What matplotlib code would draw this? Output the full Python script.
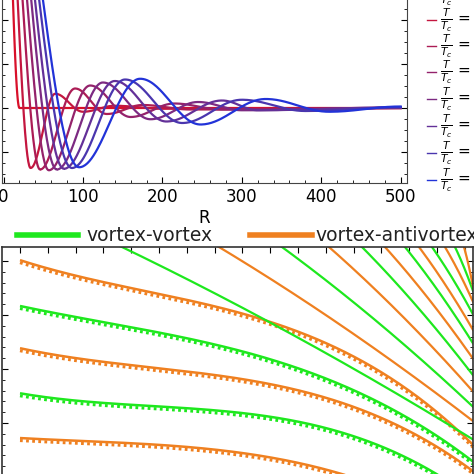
import numpy as np
import matplotlib
matplotlib.use("Agg")
import matplotlib.pyplot as plt
import matplotlib.transforms as mtrans

# ---- top panel data: extrema (R, value) for each curve, red -> blue
top_R = [
    [0, 20, 500],
    [0, 34, 65, 100, 140, 200, 500],
    [0, 46, 90, 130, 175, 235, 500],
    [0, 57, 109, 160, 215, 275, 500],
    [0, 67, 125, 185, 245, 300, 500],
    [0, 76, 140, 205, 275, 320, 500],
    [0, 86, 153, 225, 300, 380, 500],
    [0, 95, 172, 248, 330, 410, 500],
]
top_V = [
    [4.0, 0.0, 0.0],
    [4.0, -0.80, 0.19, -0.05, 0.03, -0.01, 0.0],
    [4.0, -0.82, 0.26, -0.08, 0.04, -0.02, 0.0],
    [4.0, -0.83, 0.30, -0.12, 0.06, -0.02, 0.0],
    [4.0, -0.82, 0.34, -0.15, 0.08, -0.03, 0.0],
    [4.0, -0.81, 0.36, -0.18, 0.10, -0.03, 0.01],
    [4.0, -0.80, 0.38, -0.20, 0.11, -0.04, 0.01],
    [4.0, -0.79, 0.39, -0.22, 0.12, -0.05, 0.02],
]
top_colors = ["#d8102a", "#c4163f", "#ac1c55", "#94226b", "#7c2a82", "#633098", "#4a36ae", "#2233d8"]

# ---- bottom panel data (pixel-like coordinates)
dotted_x = [[18, 100, 200, 270, 333, 400, 440, 467],
            [18, 100, 200, 270, 333, 400, 440, 467],
            [18, 100, 200, 270, 333, 400, 440, 467],
            [18, 100, 200, 270, 333, 400, 430],
            [18, 100, 200, 270, 340]]
dotted_y = [[261, 280, 303, 324, 350, 383, 412, 445],
            [306, 322, 341, 360, 383, 415, 437, 460],
            [349, 360, 373, 386, 403, 425, 446, 472],
            [394, 401, 410, 419, 430, 452, 474],
            [438, 442, 448, 458, 474]]
dotted_c = ["o", "g", "o", "g", "o"]
upper_top_x = [120, 217, 280, 327, 360, 383, 403, 417, 430, 443, 453, 462]
upper_end_y = [437, 418, 403, 387, 370, 353, 337, 323, 307, 293, 280, 267]
upper_c = ["g", "o", "g", "o", "g", "o", "g", "o", "g", "o", "g", "o"]

GREEN = "#1ee81e"
ORANGE = "#ef8020"
cmap = {"g": GREEN, "o": ORANGE}

W = 474
fig = plt.figure(figsize=(4.74, 4.74), dpi=100)

def cos_interp(xs, ys, n=60):
    X, Y = [], []
    for i in range(len(xs) - 1):
        t = np.linspace(0, 1, n)
        s = (1 - np.cos(np.pi * t)) / 2
        X.append(xs[i] + (xs[i + 1] - xs[i]) * t)
        Y.append(ys[i] + (ys[i + 1] - ys[i]) * s)
    return np.concatenate(X), np.concatenate(Y)

axh = 300
ax1 = fig.add_axes([2 / W, (W - 183) / W, 405 / W, axh / W])
for R, V, c in zip(top_R, top_V, top_colors):
    x, y = cos_interp(R, V)
    ax1.plot(x, y, color=c, lw=1.6)
ax1.set_xlim(-2, 508)
ppu = 75.0
ax1.set_ylim(-75 / ppu, (axh - 75) / ppu)
ax1.set_xticks(range(0, 501, 100))
ax1.set_xticks(range(0, 501, 20), minor=True)
ax1.set_yticks([-44 / ppu, 0, 44 / ppu, 88 / ppu])
ax1.set_yticks(np.arange(-66, 200, 11) / ppu, minor=True)
ax1.set_yticklabels([])
ax1.tick_params(which="both", direction="in", top=True, right=True, labelsize=12)
ax1.tick_params(which="major", length=4)
ax1.tick_params(which="minor", length=2)
ax1.set_xlabel("R", fontsize=12, labelpad=2)
for s in ax1.spines.values():
    s.set_color("#444444")

leg_y = [-6, 20, 46, 72, 99, 126, 153, 180]
for yy, c in zip(leg_y, top_colors):
    fy = 1 - yy / W
    fig.add_artist(plt.Line2D([427 / W, 436 / W], [fy, fy], color=c, lw=1.0))
    fig.text(440 / W, fy, r"$\frac{T}{T_c}$ =", fontsize=11, va="center", ha="left")

fy = 1 - 235 / W
fig.add_artist(plt.Line2D([17 / W, 78 / W], [fy, fy], color=GREEN, lw=4))
fig.text(86 / W, fy, "vortex-vortex", fontsize=13.5, va="center", color="#222222")
fig.add_artist(plt.Line2D([250 / W, 312 / W], [fy, fy], color=ORANGE, lw=4))
fig.text(315 / W, fy, "vortex-antivortex", fontsize=13.5, va="center", color="#222222")

ax2 = fig.add_axes([2 / W, -40 / W, 471 / W, (474 - 247 + 40) / W])
ax2.set_xlim(0, 471)
ax2.set_ylim(514, 247)
off = mtrans.offset_copy(ax2.transData, fig=fig, x=0, y=-2.5, units="dots")
for xs, ys, c in zip(dotted_x, dotted_y, dotted_c):
    p = np.polyfit(xs, ys, 3)
    xx = np.linspace(xs[0], xs[-1] + 6, 200)
    yy = np.polyval(p, xx)
    ax2.plot(xx, yy, color=cmap[c], lw=1.8, solid_capstyle="butt")
    ax2.plot(xx, yy, color=cmap[c], lw=2.2, dashes=(0.9, 1.1), transform=off)
for tx, ey, c in zip(upper_top_x, upper_end_y, upper_c):
    span = 467 - tx
    mx = tx + span * 0.5
    my = 247 + (ey - 247) * 0.47
    p = np.polyfit([tx, mx, 467], [247, my, ey], 2)
    xx = np.linspace(tx - 5, 471, 200)
    ax2.plot(xx, np.polyval(p, xx), color=cmap[c], lw=1.6)
ax2.set_xticks(np.arange(18, 471, 27.8))
ax2.set_yticks(np.arange(261, 514, 54))
ax2.set_yticks(np.arange(261, 514, 10.8), minor=True)
ax2.set_xticklabels([])
ax2.set_yticklabels([])
ax2.tick_params(which="both", direction="in", top=True, right=True, bottom=False)
ax2.tick_params(which="major", length=4)
ax2.tick_params(which="minor", length=2)
for s in ax2.spines.values():
    s.set_color("#333333")
    s.set_linewidth(1.2)

fig.savefig("out.png", dpi=100)
